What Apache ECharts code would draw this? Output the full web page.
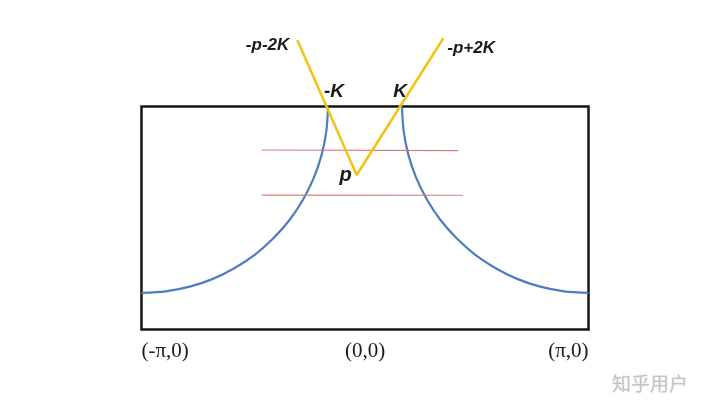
<!DOCTYPE html>
<html>
<head>
<meta charset="utf-8">
<script src="https://cdn.jsdelivr.net/npm/echarts@6/dist/echarts.min.js"></script>
<style>
  html, body { margin: 0; padding: 0; background: #ffffff; }
  #chart { width: 720px; height: 410px; }
</style>
</head>
<body>
<div id="chart"></div>
<script>
// Brillouin-zone sketch: x in [-π, π], y in box units [0, 1]
const tickValues = [-Math.PI, 0, Math.PI];
const tickLabels = ['(-π,0)', '(0,0)', '(π,0)'];

// blue curves
const curveLeft = [
  [-3.1416, 0.164], [-2.800, 0.171], [-2.463, 0.192], [-2.138, 0.227],
  [-1.831, 0.276], [-1.546, 0.336], [-1.288, 0.409], [-1.061, 0.491],
  [-0.872, 0.582], [-0.720, 0.680], [-0.610, 0.783], [-0.543, 0.891],
  [-0.520, 1.0]
];
const curveRight = [
  [0.520, 1.0], [0.543, 0.891], [0.610, 0.783], [0.720, 0.680],
  [0.872, 0.582], [1.061, 0.491], [1.288, 0.409], [1.546, 0.336],
  [1.831, 0.276], [2.138, 0.227], [2.463, 0.192], [2.800, 0.171],
  [3.1416, 0.164]
];

// red horizontal level lines
const levelTop = [[-1.452, 0.805], [1.307, 0.802]];
const levelBottom = [[-1.452, 0.603], [1.377, 0.602]];

// yellow V (reflection path)
const reflection = [[-0.952, 1.298], [-0.117, 0.693], [1.101, 1.306]];
const reflectionLabels = ['-p-2K', 'p', '-p+2K'];
const edgeLabels = ['-K', 'K'];

const labelFont = {
  fontFamily: 'Liberation Sans',
  fontWeight: 'bold',
  fontStyle: 'italic',
  color: '#1a1a1a'
};

const chart = echarts.init(document.getElementById('chart'), null, { renderer: 'canvas' });

const reflData = reflection.map((p, i) => {
  const cfg = [
    { position: 'left', distance: 8, offset: [0, 5], fontSize: 17 },
    { position: 'left', distance: 5, offset: [0, 1], fontSize: 20 },
    { position: 'right', distance: 4, offset: [0, 10], fontSize: 17 }
  ][i];
  return {
    value: p,
    label: Object.assign({ show: true, formatter: reflectionLabels[i] }, labelFont, cfg)
  };
});

const leftData = curveLeft.map((p, i) => {
  if (i === curveLeft.length - 1) {
    return { value: p, label: Object.assign({ show: true, formatter: edgeLabels[0], position: 'top', distance: 5, offset: [6, 0], fontSize: 19 }, labelFont) };
  }
  return { value: p };
});
const rightData = curveRight.map((p, i) => {
  if (i === 0) {
    return { value: p, label: Object.assign({ show: true, formatter: edgeLabels[1], position: 'top', distance: 5, offset: [-2, 0], fontSize: 19 }, labelFont) };
  }
  return { value: p };
});

const option = {
  animation: false,
  backgroundColor: '#ffffff',
  grid: {
    left: 141.5, right: 131.5, top: 106.5, bottom: 80.5,
    show: true, borderColor: '#151515', borderWidth: 2.5, backgroundColor: 'transparent'
  },
  xAxis: {
    type: 'value',
    min: -Math.PI, max: Math.PI, interval: Math.PI,
    axisLine: { show: false }, axisTick: { show: false }, splitLine: { show: false },
    axisLabel: {
      customValues: tickValues,
      margin: 11,
      alignMinLabel: 'left', alignMaxLabel: 'right',
      fontFamily: 'Liberation Serif', fontSize: 21, color: '#1a1a1a',
      formatter: function (v) {
        let best = 0;
        for (let i = 1; i < tickValues.length; i++) {
          if (Math.abs(tickValues[i] - v) < Math.abs(tickValues[best] - v)) best = i;
        }
        return tickLabels[best];
      }
    }
  },
  yAxis: { type: 'value', min: 0, max: 1, show: false },
  series: [
    {
      type: 'line', data: leftData, smooth: 0.3, clip: false,
      symbol: 'circle', symbolSize: 0, showSymbol: true,
      lineStyle: { color: '#4f7cbf', width: 2.2 }, itemStyle: { color: '#4f7cbf' }, z: 2
    },
    {
      type: 'line', data: rightData, smooth: 0.3, clip: false,
      symbol: 'circle', symbolSize: 0, showSymbol: true,
      lineStyle: { color: '#4f7cbf', width: 2.2 }, itemStyle: { color: '#4f7cbf' }, z: 2
    },
    {
      type: 'line', data: levelTop, clip: false, showSymbol: false,
      lineStyle: { color: '#d97878', width: 1.2 }, z: 2
    },
    {
      type: 'line', data: levelBottom, clip: false, showSymbol: false,
      lineStyle: { color: '#d97878', width: 1.2 }, z: 2
    },
    {
      type: 'line', data: reflData, clip: false,
      symbol: 'circle', symbolSize: 0, showSymbol: true,
      lineStyle: { color: '#f2c40f', width: 2.5 }, itemStyle: { color: '#f2c40f' }, z: 3
    }
  ],
  graphic: [
    {
      type: 'text', left: 612, top: 374,
      style: {
        text: '知乎用户', fontFamily: 'Noto Sans CJK SC', fontSize: 19,
        fill: '#c4c4c4', textShadowColor: 'rgba(0,0,0,0.15)', textShadowBlur: 2
      }
    }
  ]
};

chart.setOption(option);
</script>
</body>
</html>
